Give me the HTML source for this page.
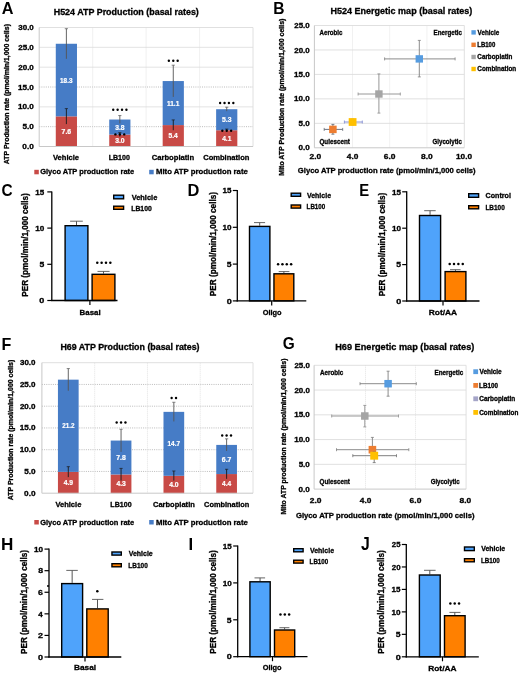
<!DOCTYPE html>
<html><head><meta charset="utf-8"><style>
html,body{margin:0;padding:0;background:#fff;}
svg{display:block;filter:blur(0.3px);}
svg text{font-family:"Liberation Sans", sans-serif;}
</style></head><body>
<svg width="520" height="675" viewBox="0 0 520 675">
<rect width="520" height="675" fill="#fff"/>
<text transform="translate(1.84,13.50) scale(0.947,1)" x="0" y="0" font-size="17.17" font-weight="bold" fill="#000">A</text>
<text transform="translate(53.72,15.00) scale(0.993,1)" font-size="9.0" font-weight="bold" fill="#000" stroke="#000" stroke-width="0.3">H524 ATP Production (basal rates)</text>
<line x1="39.20" y1="126.67" x2="253.00" y2="126.67" stroke="#B4B4B4" stroke-width="0.9" stroke-dasharray="1,1.2"/>
<line x1="39.20" y1="106.83" x2="253.00" y2="106.83" stroke="#E0E0E0" stroke-width="0.9"/>
<line x1="39.20" y1="87.00" x2="253.00" y2="87.00" stroke="#B4B4B4" stroke-width="0.9" stroke-dasharray="1,1.2"/>
<line x1="39.20" y1="67.17" x2="253.00" y2="67.17" stroke="#E0E0E0" stroke-width="0.9"/>
<line x1="39.20" y1="47.33" x2="253.00" y2="47.33" stroke="#E0E0E0" stroke-width="0.9"/>
<line x1="92.65" y1="27.50" x2="92.65" y2="146.50" stroke="#DCDCDC" stroke-width="0.8" stroke-dasharray="1,1"/>
<line x1="146.10" y1="27.50" x2="146.10" y2="146.50" stroke="#DCDCDC" stroke-width="0.8" stroke-dasharray="1,1"/>
<line x1="199.55" y1="27.50" x2="199.55" y2="146.50" stroke="#DCDCDC" stroke-width="0.8" stroke-dasharray="1,1"/>
<line x1="39.20" y1="27.50" x2="253.00" y2="27.50" stroke="#DCDCDC" stroke-width="0.9"/>
<line x1="253.00" y1="27.50" x2="253.00" y2="146.50" stroke="#DCDCDC" stroke-width="0.9"/>
<line x1="39.20" y1="27.50" x2="39.20" y2="146.50" stroke="#C8C8C8" stroke-width="1.0"/>
<text transform="translate(22.37,149.00) scale(1.145,1)" font-size="7.2" font-weight="bold" fill="#000" stroke="#000" stroke-width="0.3">0.0</text>
<text transform="translate(22.45,129.17) scale(1.136,1)" font-size="7.2" font-weight="bold" fill="#000" stroke="#000" stroke-width="0.3">5.0</text>
<text transform="translate(17.97,109.33) scale(1.132,1)" font-size="7.2" font-weight="bold" fill="#000" stroke="#000" stroke-width="0.3">10.0</text>
<text transform="translate(17.97,89.50) scale(1.132,1)" font-size="7.2" font-weight="bold" fill="#000" stroke="#000" stroke-width="0.3">15.0</text>
<text transform="translate(18.22,69.67) scale(1.114,1)" font-size="7.2" font-weight="bold" fill="#000" stroke="#000" stroke-width="0.3">20.0</text>
<text transform="translate(18.22,49.83) scale(1.114,1)" font-size="7.2" font-weight="bold" fill="#000" stroke="#000" stroke-width="0.3">25.0</text>
<text transform="translate(18.30,30.00) scale(1.108,1)" font-size="7.2" font-weight="bold" fill="#000" stroke="#000" stroke-width="0.3">30.0</text>
<text transform="translate(8.70,164.17) rotate(-90) scale(1.018,1)" font-size="6.8" font-weight="bold" fill="#000" stroke="#000" stroke-width="0.3">ATP Production rate (pmol/min/1,000 cells)</text>
<rect x="55.78" y="116.35" width="21.20" height="30.15" fill="#C84A46"/>
<rect x="55.78" y="43.76" width="21.20" height="72.59" fill="#467CC6"/>
<rect x="109.23" y="134.60" width="21.20" height="11.90" fill="#C84A46"/>
<rect x="109.23" y="119.53" width="21.20" height="15.07" fill="#467CC6"/>
<rect x="162.67" y="125.08" width="21.20" height="21.42" fill="#C84A46"/>
<rect x="162.67" y="81.05" width="21.20" height="44.03" fill="#467CC6"/>
<rect x="216.13" y="130.24" width="21.20" height="16.26" fill="#C84A46"/>
<rect x="216.13" y="109.21" width="21.20" height="21.02" fill="#467CC6"/>
<line x1="39.20" y1="146.50" x2="253.00" y2="146.50" stroke="#C8C8C8" stroke-width="1.0"/>
<line x1="66.38" y1="28.69" x2="66.38" y2="58.84" stroke="#555555" stroke-width="0.9"/>
<line x1="64.78" y1="28.69" x2="67.98" y2="28.69" stroke="#555555" stroke-width="0.7"/>
<line x1="66.38" y1="108.62" x2="66.38" y2="124.09" stroke="#1A1A1A" stroke-width="0.9"/>
<line x1="64.78" y1="108.62" x2="67.98" y2="108.62" stroke="#1A1A1A" stroke-width="0.7"/>
<text transform="translate(61.57,134.03) scale(1.091,1)" font-size="6.3" font-weight="bold" fill="#fff" stroke="#fff" stroke-width="0.2">7.6</text>
<text transform="translate(60.06,82.66) scale(1.015,1)" font-size="6.3" font-weight="bold" fill="#fff" stroke="#fff" stroke-width="0.2">18.3</text>
<line x1="119.83" y1="115.56" x2="119.83" y2="123.49" stroke="#555555" stroke-width="0.9"/>
<line x1="118.23" y1="115.56" x2="121.43" y2="115.56" stroke="#555555" stroke-width="0.7"/>
<line x1="119.83" y1="132.62" x2="119.83" y2="136.58" stroke="#1A1A1A" stroke-width="0.9"/>
<line x1="118.23" y1="132.62" x2="121.43" y2="132.62" stroke="#1A1A1A" stroke-width="0.7"/>
<text transform="translate(115.16,143.15) scale(1.078,1)" font-size="6.3" font-weight="bold" fill="#fff" stroke="#fff" stroke-width="0.2">3.0</text>
<text transform="translate(115.16,129.66) scale(1.070,1)" font-size="6.3" font-weight="bold" fill="#fff" stroke="#fff" stroke-width="0.2">3.8</text>
<line x1="173.27" y1="65.18" x2="173.27" y2="96.92" stroke="#555555" stroke-width="0.9"/>
<line x1="171.67" y1="65.18" x2="174.87" y2="65.18" stroke="#555555" stroke-width="0.7"/>
<line x1="173.27" y1="119.92" x2="173.27" y2="130.24" stroke="#1A1A1A" stroke-width="0.9"/>
<line x1="171.67" y1="119.92" x2="174.87" y2="119.92" stroke="#1A1A1A" stroke-width="0.7"/>
<text transform="translate(168.58,138.39) scale(1.054,1)" font-size="6.3" font-weight="bold" fill="#fff" stroke="#fff" stroke-width="0.2">5.4</text>
<text transform="translate(166.95,105.66) scale(1.041,1)" font-size="6.3" font-weight="bold" fill="#fff" stroke="#fff" stroke-width="0.2">11.1</text>
<line x1="226.73" y1="107.23" x2="226.73" y2="111.20" stroke="#555555" stroke-width="0.9"/>
<line x1="225.13" y1="107.23" x2="228.33" y2="107.23" stroke="#555555" stroke-width="0.7"/>
<line x1="226.73" y1="129.05" x2="226.73" y2="131.43" stroke="#1A1A1A" stroke-width="0.9"/>
<line x1="225.13" y1="129.05" x2="228.33" y2="129.05" stroke="#1A1A1A" stroke-width="0.7"/>
<text transform="translate(222.13,140.97) scale(1.058,1)" font-size="6.3" font-weight="bold" fill="#fff" stroke="#fff" stroke-width="0.2">4.1</text>
<text transform="translate(222.02,122.32) scale(1.078,1)" font-size="6.3" font-weight="bold" fill="#fff" stroke="#fff" stroke-width="0.2">5.3</text>
<circle cx="113.23" cy="109.80" r="1.2" fill="#000"/>
<circle cx="117.63" cy="109.80" r="1.2" fill="#000"/>
<circle cx="122.03" cy="109.80" r="1.2" fill="#000"/>
<circle cx="126.43" cy="109.80" r="1.2" fill="#000"/>
<circle cx="115.43" cy="134.40" r="1.2" fill="#000"/>
<circle cx="119.83" cy="134.40" r="1.2" fill="#000"/>
<circle cx="124.23" cy="134.40" r="1.2" fill="#000"/>
<circle cx="168.87" cy="60.80" r="1.2" fill="#000"/>
<circle cx="173.27" cy="60.80" r="1.2" fill="#000"/>
<circle cx="177.67" cy="60.80" r="1.2" fill="#000"/>
<circle cx="220.13" cy="103.00" r="1.2" fill="#000"/>
<circle cx="224.53" cy="103.00" r="1.2" fill="#000"/>
<circle cx="228.93" cy="103.00" r="1.2" fill="#000"/>
<circle cx="233.33" cy="103.00" r="1.2" fill="#000"/>
<circle cx="222.33" cy="130.70" r="1.2" fill="#000"/>
<circle cx="226.73" cy="130.70" r="1.2" fill="#000"/>
<circle cx="231.13" cy="130.70" r="1.2" fill="#000"/>
<text transform="translate(53.00,159.80) scale(0.995,1)" font-size="7.6" font-weight="bold" fill="#000" stroke="#000" stroke-width="0.3">Vehicle</text>
<text transform="translate(108.66,159.80) scale(0.932,1)" font-size="7.6" font-weight="bold" fill="#000" stroke="#000" stroke-width="0.3">LB100</text>
<text transform="translate(151.67,159.80) scale(1.006,1)" font-size="7.6" font-weight="bold" fill="#000" stroke="#000" stroke-width="0.3">Carboplatin</text>
<text transform="translate(203.17,159.80) scale(0.998,1)" font-size="7.6" font-weight="bold" fill="#000" stroke="#000" stroke-width="0.3">Combination</text>
<rect x="34.30" y="169.80" width="4.50" height="4.50" fill="#C84A46"/>
<text transform="translate(40.20,174.40) scale(0.938,1)" font-size="8.0" font-weight="bold" fill="#000" stroke="#000" stroke-width="0.3">Glyco ATP production rate</text>
<rect x="149.20" y="169.80" width="4.50" height="4.50" fill="#467CC6"/>
<text transform="translate(155.99,174.40) scale(0.974,1)" font-size="8.0" font-weight="bold" fill="#000" stroke="#000" stroke-width="0.3">Mito ATP production rate</text>
<text transform="translate(1.60,349.65) scale(0.956,1)" x="0" y="0" font-size="16.81" font-weight="bold" fill="#000">F</text>
<text transform="translate(60.42,349.50) scale(0.986,1)" font-size="9.0" font-weight="bold" fill="#000" stroke="#000" stroke-width="0.3">H69 ATP Production (basal rates)</text>
<line x1="41.90" y1="471.45" x2="253.00" y2="471.45" stroke="#B4B4B4" stroke-width="0.9" stroke-dasharray="1,1.2"/>
<line x1="41.90" y1="449.70" x2="253.00" y2="449.70" stroke="#B4B4B4" stroke-width="0.9" stroke-dasharray="1,1.2"/>
<line x1="41.90" y1="427.95" x2="253.00" y2="427.95" stroke="#B4B4B4" stroke-width="0.9" stroke-dasharray="1,1.2"/>
<line x1="41.90" y1="406.20" x2="253.00" y2="406.20" stroke="#B4B4B4" stroke-width="0.9" stroke-dasharray="1,1.2"/>
<line x1="41.90" y1="384.45" x2="253.00" y2="384.45" stroke="#B4B4B4" stroke-width="0.9" stroke-dasharray="1,1.2"/>
<line x1="94.67" y1="362.70" x2="94.67" y2="493.20" stroke="#DCDCDC" stroke-width="0.8" stroke-dasharray="1,1"/>
<line x1="147.45" y1="362.70" x2="147.45" y2="493.20" stroke="#DCDCDC" stroke-width="0.8" stroke-dasharray="1,1"/>
<line x1="200.22" y1="362.70" x2="200.22" y2="493.20" stroke="#DCDCDC" stroke-width="0.8" stroke-dasharray="1,1"/>
<line x1="41.90" y1="362.70" x2="253.00" y2="362.70" stroke="#DCDCDC" stroke-width="0.9"/>
<line x1="253.00" y1="362.70" x2="253.00" y2="493.20" stroke="#DCDCDC" stroke-width="0.9"/>
<line x1="41.90" y1="362.70" x2="41.90" y2="493.20" stroke="#C8C8C8" stroke-width="1.0"/>
<text transform="translate(24.07,495.70) scale(1.145,1)" font-size="7.2" font-weight="bold" fill="#000" stroke="#000" stroke-width="0.3">0.0</text>
<text transform="translate(24.15,473.95) scale(1.136,1)" font-size="7.2" font-weight="bold" fill="#000" stroke="#000" stroke-width="0.3">5.0</text>
<text transform="translate(19.67,452.20) scale(1.132,1)" font-size="7.2" font-weight="bold" fill="#000" stroke="#000" stroke-width="0.3">10.0</text>
<text transform="translate(19.67,430.45) scale(1.132,1)" font-size="7.2" font-weight="bold" fill="#000" stroke="#000" stroke-width="0.3">15.0</text>
<text transform="translate(19.92,408.70) scale(1.114,1)" font-size="7.2" font-weight="bold" fill="#000" stroke="#000" stroke-width="0.3">20.0</text>
<text transform="translate(19.92,386.95) scale(1.114,1)" font-size="7.2" font-weight="bold" fill="#000" stroke="#000" stroke-width="0.3">25.0</text>
<text transform="translate(20.00,365.20) scale(1.108,1)" font-size="7.2" font-weight="bold" fill="#000" stroke="#000" stroke-width="0.3">30.0</text>
<text transform="translate(13.30,500.17) rotate(-90) scale(1.023,1)" font-size="6.8" font-weight="bold" fill="#000" stroke="#000" stroke-width="0.3">ATP Production rate (pmol/min/1,000 cells)</text>
<rect x="57.94" y="471.88" width="20.70" height="21.32" fill="#C84A46"/>
<rect x="57.94" y="379.66" width="20.70" height="92.22" fill="#467CC6"/>
<rect x="110.71" y="474.50" width="20.70" height="18.70" fill="#C84A46"/>
<rect x="110.71" y="440.56" width="20.70" height="33.93" fill="#467CC6"/>
<rect x="163.49" y="475.80" width="20.70" height="17.40" fill="#C84A46"/>
<rect x="163.49" y="411.86" width="20.70" height="63.94" fill="#467CC6"/>
<rect x="216.26" y="474.06" width="20.70" height="19.14" fill="#C84A46"/>
<rect x="216.26" y="444.91" width="20.70" height="29.14" fill="#467CC6"/>
<line x1="41.90" y1="493.20" x2="253.00" y2="493.20" stroke="#C8C8C8" stroke-width="1.0"/>
<line x1="68.29" y1="368.57" x2="68.29" y2="390.76" stroke="#555555" stroke-width="0.9"/>
<line x1="66.69" y1="368.57" x2="69.89" y2="368.57" stroke="#555555" stroke-width="0.7"/>
<line x1="68.29" y1="466.66" x2="68.29" y2="477.11" stroke="#1A1A1A" stroke-width="0.9"/>
<line x1="66.69" y1="466.66" x2="69.89" y2="466.66" stroke="#1A1A1A" stroke-width="0.7"/>
<text transform="translate(63.69,485.14) scale(1.066,1)" font-size="6.3" font-weight="bold" fill="#fff" stroke="#fff" stroke-width="0.2">4.9</text>
<text transform="translate(62.17,428.38) scale(1.002,1)" font-size="6.3" font-weight="bold" fill="#fff" stroke="#fff" stroke-width="0.2">21.2</text>
<line x1="121.06" y1="429.25" x2="121.06" y2="451.88" stroke="#555555" stroke-width="0.9"/>
<line x1="119.46" y1="429.25" x2="122.66" y2="429.25" stroke="#555555" stroke-width="0.7"/>
<line x1="121.06" y1="468.40" x2="121.06" y2="480.58" stroke="#1A1A1A" stroke-width="0.9"/>
<line x1="119.46" y1="468.40" x2="122.66" y2="468.40" stroke="#1A1A1A" stroke-width="0.7"/>
<text transform="translate(116.46,486.45) scale(1.066,1)" font-size="6.3" font-weight="bold" fill="#fff" stroke="#fff" stroke-width="0.2">4.3</text>
<text transform="translate(116.25,460.13) scale(1.086,1)" font-size="6.3" font-weight="bold" fill="#fff" stroke="#fff" stroke-width="0.2">7.8</text>
<line x1="173.84" y1="402.28" x2="173.84" y2="421.43" stroke="#555555" stroke-width="0.9"/>
<line x1="172.24" y1="402.28" x2="175.44" y2="402.28" stroke="#555555" stroke-width="0.7"/>
<line x1="173.84" y1="471.01" x2="173.84" y2="480.58" stroke="#1A1A1A" stroke-width="0.9"/>
<line x1="172.24" y1="471.01" x2="175.44" y2="471.01" stroke="#1A1A1A" stroke-width="0.7"/>
<text transform="translate(169.24,487.10) scale(1.070,1)" font-size="6.3" font-weight="bold" fill="#fff" stroke="#fff" stroke-width="0.2">4.0</text>
<text transform="translate(167.52,446.43) scale(1.021,1)" font-size="6.3" font-weight="bold" fill="#fff" stroke="#fff" stroke-width="0.2">14.7</text>
<line x1="226.61" y1="438.82" x2="226.61" y2="451.00" stroke="#555555" stroke-width="0.9"/>
<line x1="225.01" y1="438.82" x2="228.21" y2="438.82" stroke="#555555" stroke-width="0.7"/>
<line x1="226.61" y1="469.27" x2="226.61" y2="478.84" stroke="#1A1A1A" stroke-width="0.9"/>
<line x1="225.01" y1="469.27" x2="228.21" y2="469.27" stroke="#1A1A1A" stroke-width="0.7"/>
<text transform="translate(222.01,486.23) scale(1.043,1)" font-size="6.3" font-weight="bold" fill="#fff" stroke="#fff" stroke-width="0.2">4.4</text>
<text transform="translate(221.87,462.09) scale(1.091,1)" font-size="6.3" font-weight="bold" fill="#fff" stroke="#fff" stroke-width="0.2">6.7</text>
<circle cx="116.66" cy="422.50" r="1.2" fill="#000"/>
<circle cx="121.06" cy="422.50" r="1.2" fill="#000"/>
<circle cx="125.46" cy="422.50" r="1.2" fill="#000"/>
<circle cx="171.64" cy="398.00" r="1.2" fill="#000"/>
<circle cx="176.04" cy="398.00" r="1.2" fill="#000"/>
<circle cx="222.21" cy="435.50" r="1.2" fill="#000"/>
<circle cx="226.61" cy="435.50" r="1.2" fill="#000"/>
<circle cx="231.01" cy="435.50" r="1.2" fill="#000"/>
<text transform="translate(55.41,506.80) scale(0.991,1)" font-size="7.6" font-weight="bold" fill="#000" stroke="#000" stroke-width="0.3">Vehicle</text>
<text transform="translate(110.35,506.80) scale(0.932,1)" font-size="7.6" font-weight="bold" fill="#000" stroke="#000" stroke-width="0.3">LB100</text>
<text transform="translate(152.94,506.80) scale(0.994,1)" font-size="7.6" font-weight="bold" fill="#000" stroke="#000" stroke-width="0.3">Carboplatin</text>
<text transform="translate(204.07,506.80) scale(0.974,1)" font-size="7.6" font-weight="bold" fill="#000" stroke="#000" stroke-width="0.3">Combination</text>
<rect x="34.30" y="520.00" width="4.50" height="4.50" fill="#C84A46"/>
<text transform="translate(40.20,524.60) scale(0.938,1)" font-size="8.0" font-weight="bold" fill="#000" stroke="#000" stroke-width="0.3">Glyco ATP production rate</text>
<rect x="149.20" y="520.00" width="4.50" height="4.50" fill="#467CC6"/>
<text transform="translate(155.99,524.60) scale(0.974,1)" font-size="8.0" font-weight="bold" fill="#000" stroke="#000" stroke-width="0.3">Mito ATP production rate</text>
<text transform="translate(273.14,13.50) scale(0.922,1)" x="0" y="0" font-size="16.88" font-weight="bold" fill="#000">B</text>
<text transform="translate(330.51,14.20) scale(1.002,1)" font-size="9.0" font-weight="bold" fill="#000" stroke="#000" stroke-width="0.3">H524 Energetic map (basal rates)</text>
<line x1="314.40" y1="123.34" x2="464.30" y2="123.34" stroke="#DCDCDC" stroke-width="0.9"/>
<line x1="314.40" y1="98.88" x2="464.30" y2="98.88" stroke="#DCDCDC" stroke-width="0.9"/>
<line x1="314.40" y1="74.42" x2="464.30" y2="74.42" stroke="#DCDCDC" stroke-width="0.9"/>
<line x1="314.40" y1="49.96" x2="464.30" y2="49.96" stroke="#DCDCDC" stroke-width="0.9"/>
<line x1="352.50" y1="25.50" x2="352.50" y2="147.80" stroke="#DCDCDC" stroke-width="0.8" stroke-dasharray="1,1"/>
<line x1="389.70" y1="25.50" x2="389.70" y2="147.80" stroke="#DCDCDC" stroke-width="0.8" stroke-dasharray="1,1"/>
<line x1="426.90" y1="25.50" x2="426.90" y2="147.80" stroke="#DCDCDC" stroke-width="0.8" stroke-dasharray="1,1"/>
<line x1="314.40" y1="25.50" x2="464.30" y2="25.50" stroke="#DCDCDC" stroke-width="0.9"/>
<line x1="464.30" y1="25.50" x2="464.30" y2="147.80" stroke="#DCDCDC" stroke-width="0.9"/>
<line x1="314.40" y1="25.50" x2="314.40" y2="147.80" stroke="#C8C8C8" stroke-width="1.0"/>
<line x1="314.40" y1="147.80" x2="464.30" y2="147.80" stroke="#C8C8C8" stroke-width="1.0"/>
<text transform="translate(298.48,150.40) scale(1.124,1)" font-size="7.2" font-weight="bold" fill="#000" stroke="#000" stroke-width="0.3">0.0</text>
<text transform="translate(298.56,125.94) scale(1.115,1)" font-size="7.2" font-weight="bold" fill="#000" stroke="#000" stroke-width="0.3">5.0</text>
<text transform="translate(294.08,101.48) scale(1.117,1)" font-size="7.2" font-weight="bold" fill="#000" stroke="#000" stroke-width="0.3">10.0</text>
<text transform="translate(294.08,77.02) scale(1.117,1)" font-size="7.2" font-weight="bold" fill="#000" stroke="#000" stroke-width="0.3">15.0</text>
<text transform="translate(294.32,52.56) scale(1.099,1)" font-size="7.2" font-weight="bold" fill="#000" stroke="#000" stroke-width="0.3">20.0</text>
<text transform="translate(294.32,28.10) scale(1.099,1)" font-size="7.2" font-weight="bold" fill="#000" stroke="#000" stroke-width="0.3">25.0</text>
<text transform="translate(309.45,158.50) scale(1.172,1)" font-size="7.2" font-weight="bold" fill="#000" stroke="#000" stroke-width="0.3">2.0</text>
<text transform="translate(346.83,158.50) scale(1.155,1)" font-size="7.2" font-weight="bold" fill="#000" stroke="#000" stroke-width="0.3">4.0</text>
<text transform="translate(383.85,158.50) scale(1.172,1)" font-size="7.2" font-weight="bold" fill="#000" stroke="#000" stroke-width="0.3">6.0</text>
<text transform="translate(421.10,158.50) scale(1.168,1)" font-size="7.2" font-weight="bold" fill="#000" stroke="#000" stroke-width="0.3">8.0</text>
<text transform="translate(455.96,158.50) scale(1.147,1)" font-size="7.2" font-weight="bold" fill="#000" stroke="#000" stroke-width="0.3">10.0</text>
<text transform="translate(283.60,175.65) rotate(-90) scale(1.028,1)" font-size="6.8" font-weight="bold" fill="#000" stroke="#000" stroke-width="0.3">Mito ATP Production rate (pmol/min/1,000 cells)</text>
<text transform="translate(297.79,173.40) scale(0.997,1)" font-size="7.7" font-weight="bold" fill="#000" stroke="#000" stroke-width="0.3">Glyco ATP production rate (pmol/min/1,000 cells)</text>
<text transform="translate(319.55,35.30) scale(0.877,1)" font-size="7.0" font-weight="bold" fill="#000" stroke="#000" stroke-width="0.3">Aerobic</text>
<text transform="translate(433.59,35.00) scale(0.890,1)" font-size="7.0" font-weight="bold" fill="#000" stroke="#000" stroke-width="0.3">Energetic</text>
<text transform="translate(319.45,143.50) scale(0.900,1)" font-size="7.0" font-weight="bold" fill="#000" stroke="#000" stroke-width="0.3">Quiescent</text>
<text transform="translate(432.55,143.50) scale(0.877,1)" font-size="7.0" font-weight="bold" fill="#000" stroke="#000" stroke-width="0.3">Glycolytic</text>
<line x1="358.10" y1="94.00" x2="400.30" y2="94.00" stroke="#8C8C8C" stroke-width="0.9"/>
<line x1="358.10" y1="92.50" x2="358.10" y2="95.50" stroke="#8C8C8C" stroke-width="0.8"/>
<line x1="400.30" y1="92.50" x2="400.30" y2="95.50" stroke="#8C8C8C" stroke-width="0.8"/>
<line x1="378.90" y1="73.90" x2="378.90" y2="113.10" stroke="#8C8C8C" stroke-width="0.9"/>
<line x1="377.40" y1="73.90" x2="380.40" y2="73.90" stroke="#8C8C8C" stroke-width="0.8"/>
<line x1="377.40" y1="113.10" x2="380.40" y2="113.10" stroke="#8C8C8C" stroke-width="0.8"/>
<rect x="375.20" y="90.30" width="7.40" height="7.40" fill="#A5A5A5"/>
<line x1="384.60" y1="58.90" x2="455.10" y2="58.90" stroke="#7F7F7F" stroke-width="0.9"/>
<line x1="384.60" y1="57.40" x2="384.60" y2="60.40" stroke="#7F7F7F" stroke-width="0.8"/>
<line x1="455.10" y1="57.40" x2="455.10" y2="60.40" stroke="#7F7F7F" stroke-width="0.8"/>
<line x1="419.30" y1="40.40" x2="419.30" y2="76.90" stroke="#7F7F7F" stroke-width="0.9"/>
<line x1="417.80" y1="40.40" x2="420.80" y2="40.40" stroke="#7F7F7F" stroke-width="0.8"/>
<line x1="417.80" y1="76.90" x2="420.80" y2="76.90" stroke="#7F7F7F" stroke-width="0.8"/>
<rect x="415.60" y="55.20" width="7.40" height="7.40" fill="#569CE0"/>
<line x1="324.20" y1="129.40" x2="342.70" y2="129.40" stroke="#5F6470" stroke-width="0.9"/>
<line x1="324.20" y1="127.90" x2="324.20" y2="130.90" stroke="#5F6470" stroke-width="0.8"/>
<line x1="342.70" y1="127.90" x2="342.70" y2="130.90" stroke="#5F6470" stroke-width="0.8"/>
<line x1="332.90" y1="124.40" x2="332.90" y2="134.20" stroke="#5F6470" stroke-width="0.9"/>
<line x1="331.40" y1="124.40" x2="334.40" y2="124.40" stroke="#5F6470" stroke-width="0.8"/>
<line x1="331.40" y1="134.20" x2="334.40" y2="134.20" stroke="#5F6470" stroke-width="0.8"/>
<rect x="329.15" y="125.65" width="7.50" height="7.50" fill="#ED7D31"/>
<line x1="344.40" y1="122.00" x2="362.30" y2="122.00" stroke="#7A86D0" stroke-width="0.9"/>
<line x1="344.40" y1="120.50" x2="344.40" y2="123.50" stroke="#7A86D0" stroke-width="0.8"/>
<line x1="362.30" y1="120.50" x2="362.30" y2="123.50" stroke="#7A86D0" stroke-width="0.8"/>
<line x1="352.60" y1="119.00" x2="352.60" y2="125.00" stroke="#7A86D0" stroke-width="0.9"/>
<line x1="351.10" y1="119.00" x2="354.10" y2="119.00" stroke="#7A86D0" stroke-width="0.8"/>
<line x1="351.10" y1="125.00" x2="354.10" y2="125.00" stroke="#7A86D0" stroke-width="0.8"/>
<rect x="348.70" y="118.10" width="7.80" height="7.80" fill="#FFC000"/>
<rect x="471.40" y="30.20" width="4.40" height="4.40" fill="#569CE0"/>
<text transform="translate(477.54,34.60) scale(0.926,1)" font-size="6.8" font-weight="bold" fill="#000" stroke="#000" stroke-width="0.3">Vehicle</text>
<rect x="471.40" y="42.60" width="4.40" height="4.40" fill="#ED7D31"/>
<text transform="translate(477.21,47.10) scale(0.884,1)" font-size="6.8" font-weight="bold" fill="#000" stroke="#000" stroke-width="0.3">LB100</text>
<rect x="471.40" y="54.80" width="4.40" height="4.40" fill="#A5A5A5"/>
<text transform="translate(477.35,59.30) scale(0.927,1)" font-size="6.8" font-weight="bold" fill="#000" stroke="#000" stroke-width="0.3">Carboplatin</text>
<rect x="471.40" y="66.80" width="4.40" height="4.40" fill="#FFC000"/>
<text transform="translate(477.35,71.30) scale(0.935,1)" font-size="6.8" font-weight="bold" fill="#000" stroke="#000" stroke-width="0.3">Combination</text>
<text transform="translate(282.63,349.48) scale(0.912,1)" x="0" y="0" font-size="16.90" font-weight="bold" fill="#000">G</text>
<text transform="translate(335.20,349.50) scale(1.021,1)" font-size="9.0" font-weight="bold" fill="#000" stroke="#000" stroke-width="0.3">H69 Energetic map (basal rates)</text>
<line x1="314.10" y1="464.34" x2="466.10" y2="464.34" stroke="#DCDCDC" stroke-width="0.9"/>
<line x1="314.10" y1="439.58" x2="466.10" y2="439.58" stroke="#DCDCDC" stroke-width="0.9"/>
<line x1="314.10" y1="414.82" x2="466.10" y2="414.82" stroke="#DCDCDC" stroke-width="0.9"/>
<line x1="314.10" y1="390.06" x2="466.10" y2="390.06" stroke="#DCDCDC" stroke-width="0.9"/>
<line x1="365.53" y1="365.30" x2="365.53" y2="489.10" stroke="#DCDCDC" stroke-width="0.8" stroke-dasharray="1,1"/>
<line x1="415.47" y1="365.30" x2="415.47" y2="489.10" stroke="#DCDCDC" stroke-width="0.8" stroke-dasharray="1,1"/>
<line x1="314.10" y1="365.30" x2="466.10" y2="365.30" stroke="#DCDCDC" stroke-width="0.9"/>
<line x1="466.10" y1="365.30" x2="466.10" y2="489.10" stroke="#DCDCDC" stroke-width="0.9"/>
<line x1="314.10" y1="365.30" x2="314.10" y2="489.10" stroke="#C8C8C8" stroke-width="1.0"/>
<line x1="314.10" y1="489.10" x2="466.10" y2="489.10" stroke="#C8C8C8" stroke-width="1.0"/>
<text transform="translate(298.58,491.70) scale(1.124,1)" font-size="7.2" font-weight="bold" fill="#000" stroke="#000" stroke-width="0.3">0.0</text>
<text transform="translate(298.66,466.94) scale(1.115,1)" font-size="7.2" font-weight="bold" fill="#000" stroke="#000" stroke-width="0.3">5.0</text>
<text transform="translate(294.18,442.18) scale(1.117,1)" font-size="7.2" font-weight="bold" fill="#000" stroke="#000" stroke-width="0.3">10.0</text>
<text transform="translate(294.18,417.42) scale(1.117,1)" font-size="7.2" font-weight="bold" fill="#000" stroke="#000" stroke-width="0.3">15.0</text>
<text transform="translate(294.42,392.66) scale(1.099,1)" font-size="7.2" font-weight="bold" fill="#000" stroke="#000" stroke-width="0.3">20.0</text>
<text transform="translate(294.42,367.90) scale(1.099,1)" font-size="7.2" font-weight="bold" fill="#000" stroke="#000" stroke-width="0.3">25.0</text>
<text transform="translate(309.75,503.00) scale(1.172,1)" font-size="7.2" font-weight="bold" fill="#000" stroke="#000" stroke-width="0.3">2.0</text>
<text transform="translate(359.86,503.00) scale(1.155,1)" font-size="7.2" font-weight="bold" fill="#000" stroke="#000" stroke-width="0.3">4.0</text>
<text transform="translate(409.62,503.00) scale(1.172,1)" font-size="7.2" font-weight="bold" fill="#000" stroke="#000" stroke-width="0.3">6.0</text>
<text transform="translate(459.60,503.00) scale(1.168,1)" font-size="7.2" font-weight="bold" fill="#000" stroke="#000" stroke-width="0.3">8.0</text>
<text transform="translate(286.40,514.45) rotate(-90) scale(1.022,1)" font-size="6.8" font-weight="bold" fill="#000" stroke="#000" stroke-width="0.3">Mito ATP production rate (pmol/min/1,000 cells)</text>
<text transform="translate(295.89,517.60) scale(1.002,1)" font-size="7.7" font-weight="bold" fill="#000" stroke="#000" stroke-width="0.3">Glyco ATP production rate (pmol/min/1,000 cells)</text>
<text transform="translate(319.94,374.50) scale(0.900,1)" font-size="7.0" font-weight="bold" fill="#000" stroke="#000" stroke-width="0.3">Aerobic</text>
<text transform="translate(434.49,374.50) scale(0.900,1)" font-size="7.0" font-weight="bold" fill="#000" stroke="#000" stroke-width="0.3">Energetic</text>
<text transform="translate(319.55,483.70) scale(0.897,1)" font-size="7.0" font-weight="bold" fill="#000" stroke="#000" stroke-width="0.3">Quiescent</text>
<text transform="translate(430.66,483.90) scale(0.867,1)" font-size="7.0" font-weight="bold" fill="#000" stroke="#000" stroke-width="0.3">Glycolytic</text>
<line x1="331.70" y1="416.00" x2="398.50" y2="416.00" stroke="#8C8C8C" stroke-width="0.9"/>
<line x1="331.70" y1="414.50" x2="331.70" y2="417.50" stroke="#8C8C8C" stroke-width="0.8"/>
<line x1="398.50" y1="414.50" x2="398.50" y2="417.50" stroke="#8C8C8C" stroke-width="0.8"/>
<line x1="364.80" y1="405.40" x2="364.80" y2="426.90" stroke="#8C8C8C" stroke-width="0.9"/>
<line x1="363.30" y1="405.40" x2="366.30" y2="405.40" stroke="#8C8C8C" stroke-width="0.8"/>
<line x1="363.30" y1="426.90" x2="366.30" y2="426.90" stroke="#8C8C8C" stroke-width="0.8"/>
<rect x="361.05" y="412.25" width="7.50" height="7.50" fill="#A5A5A5"/>
<line x1="360.00" y1="383.70" x2="416.30" y2="383.70" stroke="#7F7F7F" stroke-width="0.9"/>
<line x1="360.00" y1="382.20" x2="360.00" y2="385.20" stroke="#7F7F7F" stroke-width="0.8"/>
<line x1="416.30" y1="382.20" x2="416.30" y2="385.20" stroke="#7F7F7F" stroke-width="0.8"/>
<line x1="388.10" y1="371.20" x2="388.10" y2="396.20" stroke="#7F7F7F" stroke-width="0.9"/>
<line x1="386.60" y1="371.20" x2="389.60" y2="371.20" stroke="#7F7F7F" stroke-width="0.8"/>
<line x1="386.60" y1="396.20" x2="389.60" y2="396.20" stroke="#7F7F7F" stroke-width="0.8"/>
<rect x="384.35" y="379.95" width="7.50" height="7.50" fill="#569CE0"/>
<line x1="336.50" y1="449.70" x2="408.80" y2="449.70" stroke="#7F7F7F" stroke-width="0.9"/>
<line x1="336.50" y1="448.20" x2="336.50" y2="451.20" stroke="#7F7F7F" stroke-width="0.8"/>
<line x1="408.80" y1="448.20" x2="408.80" y2="451.20" stroke="#7F7F7F" stroke-width="0.8"/>
<line x1="372.40" y1="437.40" x2="372.40" y2="457.00" stroke="#7F7F7F" stroke-width="0.9"/>
<line x1="370.90" y1="437.40" x2="373.90" y2="437.40" stroke="#7F7F7F" stroke-width="0.8"/>
<line x1="370.90" y1="457.00" x2="373.90" y2="457.00" stroke="#7F7F7F" stroke-width="0.8"/>
<rect x="368.60" y="445.90" width="7.60" height="7.60" fill="#ED7D31"/>
<line x1="352.80" y1="455.70" x2="396.50" y2="455.70" stroke="#707070" stroke-width="0.9"/>
<line x1="352.80" y1="454.20" x2="352.80" y2="457.20" stroke="#707070" stroke-width="0.8"/>
<line x1="396.50" y1="454.20" x2="396.50" y2="457.20" stroke="#707070" stroke-width="0.8"/>
<line x1="374.20" y1="452.00" x2="374.20" y2="462.60" stroke="#707070" stroke-width="0.9"/>
<line x1="372.70" y1="452.00" x2="375.70" y2="452.00" stroke="#707070" stroke-width="0.8"/>
<line x1="372.70" y1="462.60" x2="375.70" y2="462.60" stroke="#707070" stroke-width="0.8"/>
<rect x="370.25" y="451.75" width="7.90" height="7.90" fill="#FFC000"/>
<rect x="473.30" y="369.30" width="4.80" height="4.80" fill="#569CE0"/>
<text transform="translate(479.44,373.80) scale(0.952,1)" font-size="6.8" font-weight="bold" fill="#000" stroke="#000" stroke-width="0.3">Vehicle</text>
<rect x="473.30" y="383.00" width="4.80" height="4.80" fill="#ED7D31"/>
<text transform="translate(479.09,387.80) scale(0.930,1)" font-size="6.8" font-weight="bold" fill="#000" stroke="#000" stroke-width="0.3">LB100</text>
<rect x="473.30" y="396.40" width="4.80" height="4.80" fill="#A5A5C8"/>
<text transform="translate(479.24,401.10) scale(0.952,1)" font-size="6.8" font-weight="bold" fill="#000" stroke="#000" stroke-width="0.3">Carboplatin</text>
<rect x="473.30" y="410.00" width="4.80" height="4.80" fill="#FFC000"/>
<text transform="translate(479.24,414.80) scale(0.942,1)" font-size="6.8" font-weight="bold" fill="#000" stroke="#000" stroke-width="0.3">Combination</text>
<text transform="translate(1.43,195.98) scale(0.886,1)" x="0" y="0" font-size="17.39" font-weight="bold" fill="#000">C</text>
<line x1="51.80" y1="191.40" x2="51.80" y2="301.10" stroke="#000" stroke-width="1.3"/>
<line x1="47.30" y1="300.50" x2="51.80" y2="300.50" stroke="#000" stroke-width="1.2"/>
<text transform="translate(39.34,303.20) scale(1.207,1)" font-size="7.5" font-weight="bold" fill="#000" stroke="#000" stroke-width="0.3">0</text>
<line x1="47.30" y1="264.30" x2="51.80" y2="264.30" stroke="#000" stroke-width="1.2"/>
<text transform="translate(39.44,267.00) scale(1.147,1)" font-size="7.5" font-weight="bold" fill="#000" stroke="#000" stroke-width="0.3">5</text>
<line x1="47.30" y1="228.10" x2="51.80" y2="228.10" stroke="#000" stroke-width="1.2"/>
<text transform="translate(35.27,230.80) scale(1.088,1)" font-size="7.5" font-weight="bold" fill="#000" stroke="#000" stroke-width="0.3">10</text>
<line x1="47.30" y1="191.90" x2="51.80" y2="191.90" stroke="#000" stroke-width="1.2"/>
<text transform="translate(35.28,194.60) scale(1.072,1)" font-size="7.5" font-weight="bold" fill="#000" stroke="#000" stroke-width="0.3">15</text>
<text transform="translate(28.20,296.63) rotate(-90) scale(0.992,1)" font-size="8.2" font-weight="bold" fill="#000" stroke="#000" stroke-width="0.3">PER (pmol/min/1,000 cells)</text>
<line x1="76.50" y1="221.20" x2="76.50" y2="225.00" stroke="#555555" stroke-width="1.0"/>
<line x1="70.10" y1="221.20" x2="82.80" y2="221.20" stroke="#555555" stroke-width="0.9"/>
<rect x="65.10" y="225.70" width="22.80" height="74.80" fill="#4FA3FB" stroke="#000" stroke-width="1.4"/>
<line x1="103.50" y1="271.40" x2="103.50" y2="273.60" stroke="#555555" stroke-width="1.0"/>
<line x1="97.50" y1="271.40" x2="109.60" y2="271.40" stroke="#555555" stroke-width="0.9"/>
<rect x="92.10" y="274.30" width="22.80" height="26.20" fill="#FF8000" stroke="#000" stroke-width="1.4"/>
<line x1="51.20" y1="300.50" x2="117.50" y2="300.50" stroke="#000" stroke-width="1.3"/>
<line x1="89.90" y1="300.50" x2="89.90" y2="305.00" stroke="#000" stroke-width="1.2"/>
<text transform="translate(79.59,314.70) scale(0.996,1)" font-size="7.9" font-weight="bold" fill="#000" stroke="#000" stroke-width="0.3">Basal</text>
<rect x="113.70" y="195.20" width="9.90" height="3.60" fill="#4FA3FB" stroke="#000" stroke-width="1.4"/>
<text transform="translate(131.63,199.60) scale(0.992,1)" font-size="7.5" font-weight="bold" fill="#000" stroke="#000" stroke-width="0.3">Vehicle</text>
<rect x="113.70" y="206.20" width="9.90" height="3.10" fill="#FF8000" stroke="#000" stroke-width="1.4"/>
<text transform="translate(131.26,210.90) scale(0.912,1)" font-size="7.5" font-weight="bold" fill="#000" stroke="#000" stroke-width="0.3">LB100</text>
<circle cx="97.27" cy="262.80" r="1.25" fill="#000"/>
<circle cx="101.62" cy="262.80" r="1.25" fill="#000"/>
<circle cx="105.97" cy="262.80" r="1.25" fill="#000"/>
<circle cx="110.33" cy="262.80" r="1.25" fill="#000"/>
<text transform="translate(187.48,195.65) scale(0.969,1)" x="0" y="0" font-size="16.96" font-weight="bold" fill="#000">D</text>
<line x1="237.30" y1="190.00" x2="237.30" y2="301.50" stroke="#000" stroke-width="1.3"/>
<line x1="232.80" y1="300.90" x2="237.30" y2="300.90" stroke="#000" stroke-width="1.2"/>
<text transform="translate(226.64,303.60) scale(1.207,1)" font-size="7.5" font-weight="bold" fill="#000" stroke="#000" stroke-width="0.3">0</text>
<line x1="232.80" y1="264.10" x2="237.30" y2="264.10" stroke="#000" stroke-width="1.2"/>
<text transform="translate(226.74,266.80) scale(1.147,1)" font-size="7.5" font-weight="bold" fill="#000" stroke="#000" stroke-width="0.3">5</text>
<line x1="232.80" y1="227.30" x2="237.30" y2="227.30" stroke="#000" stroke-width="1.2"/>
<text transform="translate(222.57,230.00) scale(1.088,1)" font-size="7.5" font-weight="bold" fill="#000" stroke="#000" stroke-width="0.3">10</text>
<line x1="232.80" y1="190.50" x2="237.30" y2="190.50" stroke="#000" stroke-width="1.2"/>
<text transform="translate(222.58,193.20) scale(1.072,1)" font-size="7.5" font-weight="bold" fill="#000" stroke="#000" stroke-width="0.3">15</text>
<text transform="translate(215.60,296.13) rotate(-90) scale(0.998,1)" font-size="8.2" font-weight="bold" fill="#000" stroke="#000" stroke-width="0.3">PER (pmol/min/1,000 cells)</text>
<line x1="259.70" y1="222.60" x2="259.70" y2="225.70" stroke="#555555" stroke-width="1.0"/>
<line x1="254.00" y1="222.60" x2="265.10" y2="222.60" stroke="#555555" stroke-width="0.9"/>
<rect x="249.50" y="226.40" width="20.40" height="74.50" fill="#4FA3FB" stroke="#000" stroke-width="1.4"/>
<line x1="283.88" y1="271.60" x2="283.88" y2="273.10" stroke="#555555" stroke-width="1.0"/>
<line x1="278.70" y1="271.60" x2="289.40" y2="271.60" stroke="#555555" stroke-width="0.9"/>
<rect x="273.95" y="273.80" width="19.85" height="27.10" fill="#FF8000" stroke="#000" stroke-width="1.4"/>
<line x1="236.70" y1="300.90" x2="306.30" y2="300.90" stroke="#000" stroke-width="1.3"/>
<line x1="271.70" y1="300.90" x2="271.70" y2="305.40" stroke="#000" stroke-width="1.2"/>
<text transform="translate(262.70,315.20) scale(0.936,1)" font-size="7.9" font-weight="bold" fill="#000" stroke="#000" stroke-width="0.3">Oligo</text>
<rect x="291.20" y="193.20" width="9.40" height="3.10" fill="#4FA3FB" stroke="#000" stroke-width="1.4"/>
<text transform="translate(306.93,197.60) scale(0.933,1)" font-size="7.5" font-weight="bold" fill="#000" stroke="#000" stroke-width="0.3">Vehicle</text>
<rect x="291.20" y="205.00" width="9.40" height="3.10" fill="#FF8000" stroke="#000" stroke-width="1.4"/>
<text transform="translate(306.60,209.30) scale(0.829,1)" font-size="7.5" font-weight="bold" fill="#000" stroke="#000" stroke-width="0.3">LB100</text>
<circle cx="278.08" cy="264.25" r="1.25" fill="#000"/>
<circle cx="282.43" cy="264.25" r="1.25" fill="#000"/>
<circle cx="286.78" cy="264.25" r="1.25" fill="#000"/>
<circle cx="291.12" cy="264.25" r="1.25" fill="#000"/>
<text transform="translate(359.18,195.65) scale(0.892,1)" x="0" y="0" font-size="16.67" font-weight="bold" fill="#000">E</text>
<line x1="406.70" y1="191.30" x2="406.70" y2="301.60" stroke="#000" stroke-width="1.3"/>
<line x1="402.20" y1="301.00" x2="406.70" y2="301.00" stroke="#000" stroke-width="1.2"/>
<text transform="translate(396.14,303.70) scale(1.207,1)" font-size="7.5" font-weight="bold" fill="#000" stroke="#000" stroke-width="0.3">0</text>
<line x1="402.20" y1="264.60" x2="406.70" y2="264.60" stroke="#000" stroke-width="1.2"/>
<text transform="translate(396.24,267.30) scale(1.147,1)" font-size="7.5" font-weight="bold" fill="#000" stroke="#000" stroke-width="0.3">5</text>
<line x1="402.20" y1="228.20" x2="406.70" y2="228.20" stroke="#000" stroke-width="1.2"/>
<text transform="translate(392.07,230.90) scale(1.088,1)" font-size="7.5" font-weight="bold" fill="#000" stroke="#000" stroke-width="0.3">10</text>
<line x1="402.20" y1="191.80" x2="406.70" y2="191.80" stroke="#000" stroke-width="1.2"/>
<text transform="translate(392.08,194.50) scale(1.072,1)" font-size="7.5" font-weight="bold" fill="#000" stroke="#000" stroke-width="0.3">15</text>
<text transform="translate(385.20,296.23) rotate(-90) scale(0.995,1)" font-size="8.2" font-weight="bold" fill="#000" stroke="#000" stroke-width="0.3">PER (pmol/min/1,000 cells)</text>
<line x1="430.05" y1="210.70" x2="430.05" y2="214.80" stroke="#555555" stroke-width="1.0"/>
<line x1="424.20" y1="210.70" x2="435.70" y2="210.70" stroke="#555555" stroke-width="0.9"/>
<rect x="419.50" y="215.50" width="21.10" height="85.50" fill="#4FA3FB" stroke="#000" stroke-width="1.4"/>
<line x1="455.50" y1="269.70" x2="455.50" y2="270.90" stroke="#555555" stroke-width="1.0"/>
<line x1="450.00" y1="269.70" x2="460.60" y2="269.70" stroke="#555555" stroke-width="0.9"/>
<rect x="445.10" y="271.60" width="20.80" height="29.40" fill="#FF8000" stroke="#000" stroke-width="1.4"/>
<line x1="406.10" y1="301.00" x2="479.50" y2="301.00" stroke="#000" stroke-width="1.3"/>
<line x1="443.00" y1="301.00" x2="443.00" y2="305.50" stroke="#000" stroke-width="1.2"/>
<text transform="translate(428.75,315.20) scale(1.064,1)" font-size="7.9" font-weight="bold" fill="#000" stroke="#000" stroke-width="0.3">Rot/AA</text>
<rect x="468.70" y="193.70" width="9.90" height="3.60" fill="#4FA3FB" stroke="#000" stroke-width="1.4"/>
<text transform="translate(485.51,198.10) scale(0.957,1)" font-size="7.5" font-weight="bold" fill="#000" stroke="#000" stroke-width="0.3">Control</text>
<rect x="468.70" y="205.70" width="9.90" height="3.10" fill="#FF8000" stroke="#000" stroke-width="1.4"/>
<text transform="translate(485.38,210.10) scale(0.861,1)" font-size="7.5" font-weight="bold" fill="#000" stroke="#000" stroke-width="0.3">LB100</text>
<circle cx="449.68" cy="264.00" r="1.25" fill="#000"/>
<circle cx="454.02" cy="264.00" r="1.25" fill="#000"/>
<circle cx="458.38" cy="264.00" r="1.25" fill="#000"/>
<circle cx="462.72" cy="264.00" r="1.25" fill="#000"/>
<text transform="translate(0.94,549.65) scale(1.018,1)" x="0" y="0" font-size="16.81" font-weight="bold" fill="#000">H</text>
<line x1="49.00" y1="548.60" x2="49.00" y2="657.60" stroke="#000" stroke-width="1.3"/>
<line x1="44.50" y1="657.00" x2="49.00" y2="657.00" stroke="#000" stroke-width="1.2"/>
<text transform="translate(38.04,659.70) scale(1.207,1)" font-size="7.5" font-weight="bold" fill="#000" stroke="#000" stroke-width="0.3">0</text>
<line x1="44.50" y1="635.42" x2="49.00" y2="635.42" stroke="#000" stroke-width="1.2"/>
<text transform="translate(38.09,638.12) scale(1.194,1)" font-size="7.5" font-weight="bold" fill="#000" stroke="#000" stroke-width="0.3">2</text>
<line x1="44.50" y1="613.84" x2="49.00" y2="613.84" stroke="#000" stroke-width="1.2"/>
<text transform="translate(38.28,616.54) scale(1.072,1)" font-size="7.5" font-weight="bold" fill="#000" stroke="#000" stroke-width="0.3">4</text>
<line x1="44.50" y1="592.26" x2="49.00" y2="592.26" stroke="#000" stroke-width="1.2"/>
<text transform="translate(38.09,594.96) scale(1.182,1)" font-size="7.5" font-weight="bold" fill="#000" stroke="#000" stroke-width="0.3">6</text>
<line x1="44.50" y1="570.68" x2="49.00" y2="570.68" stroke="#000" stroke-width="1.2"/>
<text transform="translate(38.14,573.38) scale(1.158,1)" font-size="7.5" font-weight="bold" fill="#000" stroke="#000" stroke-width="0.3">8</text>
<line x1="44.50" y1="549.10" x2="49.00" y2="549.10" stroke="#000" stroke-width="1.2"/>
<text transform="translate(33.97,551.80) scale(1.088,1)" font-size="7.5" font-weight="bold" fill="#000" stroke="#000" stroke-width="0.3">10</text>
<text transform="translate(26.90,654.03) rotate(-90) scale(0.998,1)" font-size="8.2" font-weight="bold" fill="#000" stroke="#000" stroke-width="0.3">PER (pmol/min/1,000 cells)</text>
<line x1="72.15" y1="570.40" x2="72.15" y2="582.90" stroke="#555555" stroke-width="1.0"/>
<line x1="66.30" y1="570.40" x2="77.80" y2="570.40" stroke="#555555" stroke-width="0.9"/>
<rect x="61.70" y="583.60" width="20.90" height="73.40" fill="#4FA3FB" stroke="#000" stroke-width="1.4"/>
<line x1="97.50" y1="599.40" x2="97.50" y2="608.20" stroke="#555555" stroke-width="1.0"/>
<line x1="92.00" y1="599.40" x2="103.40" y2="599.40" stroke="#555555" stroke-width="0.9"/>
<rect x="86.80" y="608.90" width="21.40" height="48.10" fill="#FF8000" stroke="#000" stroke-width="1.4"/>
<line x1="48.40" y1="657.00" x2="121.30" y2="657.00" stroke="#000" stroke-width="1.3"/>
<line x1="85.00" y1="657.00" x2="85.00" y2="661.50" stroke="#000" stroke-width="1.2"/>
<text transform="translate(73.96,669.80) scale(1.051,1)" font-size="7.9" font-weight="bold" fill="#000" stroke="#000" stroke-width="0.3">Basal</text>
<rect x="111.95" y="552.00" width="9.35" height="3.10" fill="#4FA3FB" stroke="#000" stroke-width="1.4"/>
<text transform="translate(128.68,556.30) scale(0.931,1)" font-size="7.5" font-weight="bold" fill="#000" stroke="#000" stroke-width="0.3">Vehicle</text>
<rect x="111.95" y="563.70" width="9.35" height="3.10" fill="#FF8000" stroke="#000" stroke-width="1.4"/>
<text transform="translate(128.33,567.50) scale(0.864,1)" font-size="7.5" font-weight="bold" fill="#000" stroke="#000" stroke-width="0.3">LB100</text>
<circle cx="97.30" cy="591.30" r="1.25" fill="#000"/>
<text transform="translate(188.57,549.65) scale(0.993,1)" x="0" y="0" font-size="16.67" font-weight="bold" fill="#000">I</text>
<line x1="237.70" y1="545.50" x2="237.70" y2="657.30" stroke="#000" stroke-width="1.3"/>
<line x1="233.20" y1="656.70" x2="237.70" y2="656.70" stroke="#000" stroke-width="1.2"/>
<text transform="translate(226.74,659.40) scale(1.207,1)" font-size="7.5" font-weight="bold" fill="#000" stroke="#000" stroke-width="0.3">0</text>
<line x1="233.20" y1="619.80" x2="237.70" y2="619.80" stroke="#000" stroke-width="1.2"/>
<text transform="translate(226.84,622.50) scale(1.147,1)" font-size="7.5" font-weight="bold" fill="#000" stroke="#000" stroke-width="0.3">5</text>
<line x1="233.20" y1="582.90" x2="237.70" y2="582.90" stroke="#000" stroke-width="1.2"/>
<text transform="translate(222.67,585.60) scale(1.088,1)" font-size="7.5" font-weight="bold" fill="#000" stroke="#000" stroke-width="0.3">10</text>
<line x1="233.20" y1="546.00" x2="237.70" y2="546.00" stroke="#000" stroke-width="1.2"/>
<text transform="translate(222.68,548.70) scale(1.072,1)" font-size="7.5" font-weight="bold" fill="#000" stroke="#000" stroke-width="0.3">15</text>
<text transform="translate(215.90,653.63) rotate(-90) scale(0.993,1)" font-size="8.2" font-weight="bold" fill="#000" stroke="#000" stroke-width="0.3">PER (pmol/min/1,000 cells)</text>
<line x1="260.05" y1="577.90" x2="260.05" y2="581.10" stroke="#555555" stroke-width="1.0"/>
<line x1="254.50" y1="577.90" x2="265.10" y2="577.90" stroke="#555555" stroke-width="0.9"/>
<rect x="249.90" y="581.80" width="20.30" height="74.90" fill="#4FA3FB" stroke="#000" stroke-width="1.4"/>
<line x1="284.60" y1="627.70" x2="284.60" y2="629.30" stroke="#555555" stroke-width="1.0"/>
<line x1="279.40" y1="627.70" x2="289.40" y2="627.70" stroke="#555555" stroke-width="0.9"/>
<rect x="274.50" y="630.00" width="20.20" height="26.70" fill="#FF8000" stroke="#000" stroke-width="1.4"/>
<line x1="237.10" y1="656.70" x2="307.50" y2="656.70" stroke="#000" stroke-width="1.3"/>
<line x1="272.50" y1="656.70" x2="272.50" y2="661.20" stroke="#000" stroke-width="1.2"/>
<text transform="translate(262.70,670.20) scale(0.936,1)" font-size="7.9" font-weight="bold" fill="#000" stroke="#000" stroke-width="0.3">Oligo</text>
<rect x="293.70" y="548.70" width="9.40" height="3.10" fill="#4FA3FB" stroke="#000" stroke-width="1.4"/>
<text transform="translate(309.93,552.60) scale(0.933,1)" font-size="7.5" font-weight="bold" fill="#000" stroke="#000" stroke-width="0.3">Vehicle</text>
<rect x="293.70" y="560.20" width="9.40" height="2.90" fill="#FF8000" stroke="#000" stroke-width="1.4"/>
<text transform="translate(309.60,564.30) scale(0.829,1)" font-size="7.5" font-weight="bold" fill="#000" stroke="#000" stroke-width="0.3">LB100</text>
<circle cx="280.45" cy="614.40" r="1.25" fill="#000"/>
<circle cx="284.80" cy="614.40" r="1.25" fill="#000"/>
<circle cx="289.15" cy="614.40" r="1.25" fill="#000"/>
<text transform="translate(360.91,550.17) scale(0.891,1)" x="0" y="0" font-size="17.71" font-weight="bold" fill="#000">J</text>
<line x1="406.30" y1="544.00" x2="406.30" y2="657.40" stroke="#000" stroke-width="1.3"/>
<line x1="401.80" y1="656.80" x2="406.30" y2="656.80" stroke="#000" stroke-width="1.2"/>
<text transform="translate(395.64,659.50) scale(1.207,1)" font-size="7.5" font-weight="bold" fill="#000" stroke="#000" stroke-width="0.3">0</text>
<line x1="401.80" y1="634.34" x2="406.30" y2="634.34" stroke="#000" stroke-width="1.2"/>
<text transform="translate(395.74,637.04) scale(1.147,1)" font-size="7.5" font-weight="bold" fill="#000" stroke="#000" stroke-width="0.3">5</text>
<line x1="401.80" y1="611.88" x2="406.30" y2="611.88" stroke="#000" stroke-width="1.2"/>
<text transform="translate(391.57,614.58) scale(1.088,1)" font-size="7.5" font-weight="bold" fill="#000" stroke="#000" stroke-width="0.3">10</text>
<line x1="401.80" y1="589.42" x2="406.30" y2="589.42" stroke="#000" stroke-width="1.2"/>
<text transform="translate(391.58,592.12) scale(1.072,1)" font-size="7.5" font-weight="bold" fill="#000" stroke="#000" stroke-width="0.3">15</text>
<line x1="401.80" y1="566.96" x2="406.30" y2="566.96" stroke="#000" stroke-width="1.2"/>
<text transform="translate(391.82,569.66) scale(1.056,1)" font-size="7.5" font-weight="bold" fill="#000" stroke="#000" stroke-width="0.3">20</text>
<line x1="401.80" y1="544.50" x2="406.30" y2="544.50" stroke="#000" stroke-width="1.2"/>
<text transform="translate(391.83,547.20) scale(1.041,1)" font-size="7.5" font-weight="bold" fill="#000" stroke="#000" stroke-width="0.3">25</text>
<text transform="translate(384.10,653.63) rotate(-90) scale(0.993,1)" font-size="8.2" font-weight="bold" fill="#000" stroke="#000" stroke-width="0.3">PER (pmol/min/1,000 cells)</text>
<line x1="429.80" y1="570.30" x2="429.80" y2="574.30" stroke="#555555" stroke-width="1.0"/>
<line x1="424.00" y1="570.30" x2="435.60" y2="570.30" stroke="#555555" stroke-width="0.9"/>
<rect x="419.40" y="575.00" width="20.80" height="81.80" fill="#4FA3FB" stroke="#000" stroke-width="1.4"/>
<line x1="454.80" y1="612.40" x2="454.80" y2="615.00" stroke="#555555" stroke-width="1.0"/>
<line x1="449.40" y1="612.40" x2="460.50" y2="612.40" stroke="#555555" stroke-width="0.9"/>
<rect x="444.50" y="615.70" width="20.60" height="41.10" fill="#FF8000" stroke="#000" stroke-width="1.4"/>
<line x1="405.70" y1="656.80" x2="478.80" y2="656.80" stroke="#000" stroke-width="1.3"/>
<line x1="442.50" y1="656.80" x2="442.50" y2="661.30" stroke="#000" stroke-width="1.2"/>
<text transform="translate(428.26,671.40) scale(1.056,1)" font-size="7.9" font-weight="bold" fill="#000" stroke="#000" stroke-width="0.3">Rot/AA</text>
<rect x="464.50" y="547.00" width="9.80" height="3.60" fill="#4FA3FB" stroke="#000" stroke-width="1.4"/>
<text transform="translate(481.23,551.30) scale(0.929,1)" font-size="7.5" font-weight="bold" fill="#000" stroke="#000" stroke-width="0.3">Vehicle</text>
<rect x="464.50" y="558.70" width="9.80" height="3.10" fill="#FF8000" stroke="#000" stroke-width="1.4"/>
<text transform="translate(480.89,563.10) scale(0.838,1)" font-size="7.5" font-weight="bold" fill="#000" stroke="#000" stroke-width="0.3">LB100</text>
<circle cx="450.35" cy="603.60" r="1.25" fill="#000"/>
<circle cx="454.70" cy="603.60" r="1.25" fill="#000"/>
<circle cx="459.05" cy="603.60" r="1.25" fill="#000"/>
<circle cx="48.00" cy="586.00" r="1.0" fill="#000"/>
</svg>
</body></html>
